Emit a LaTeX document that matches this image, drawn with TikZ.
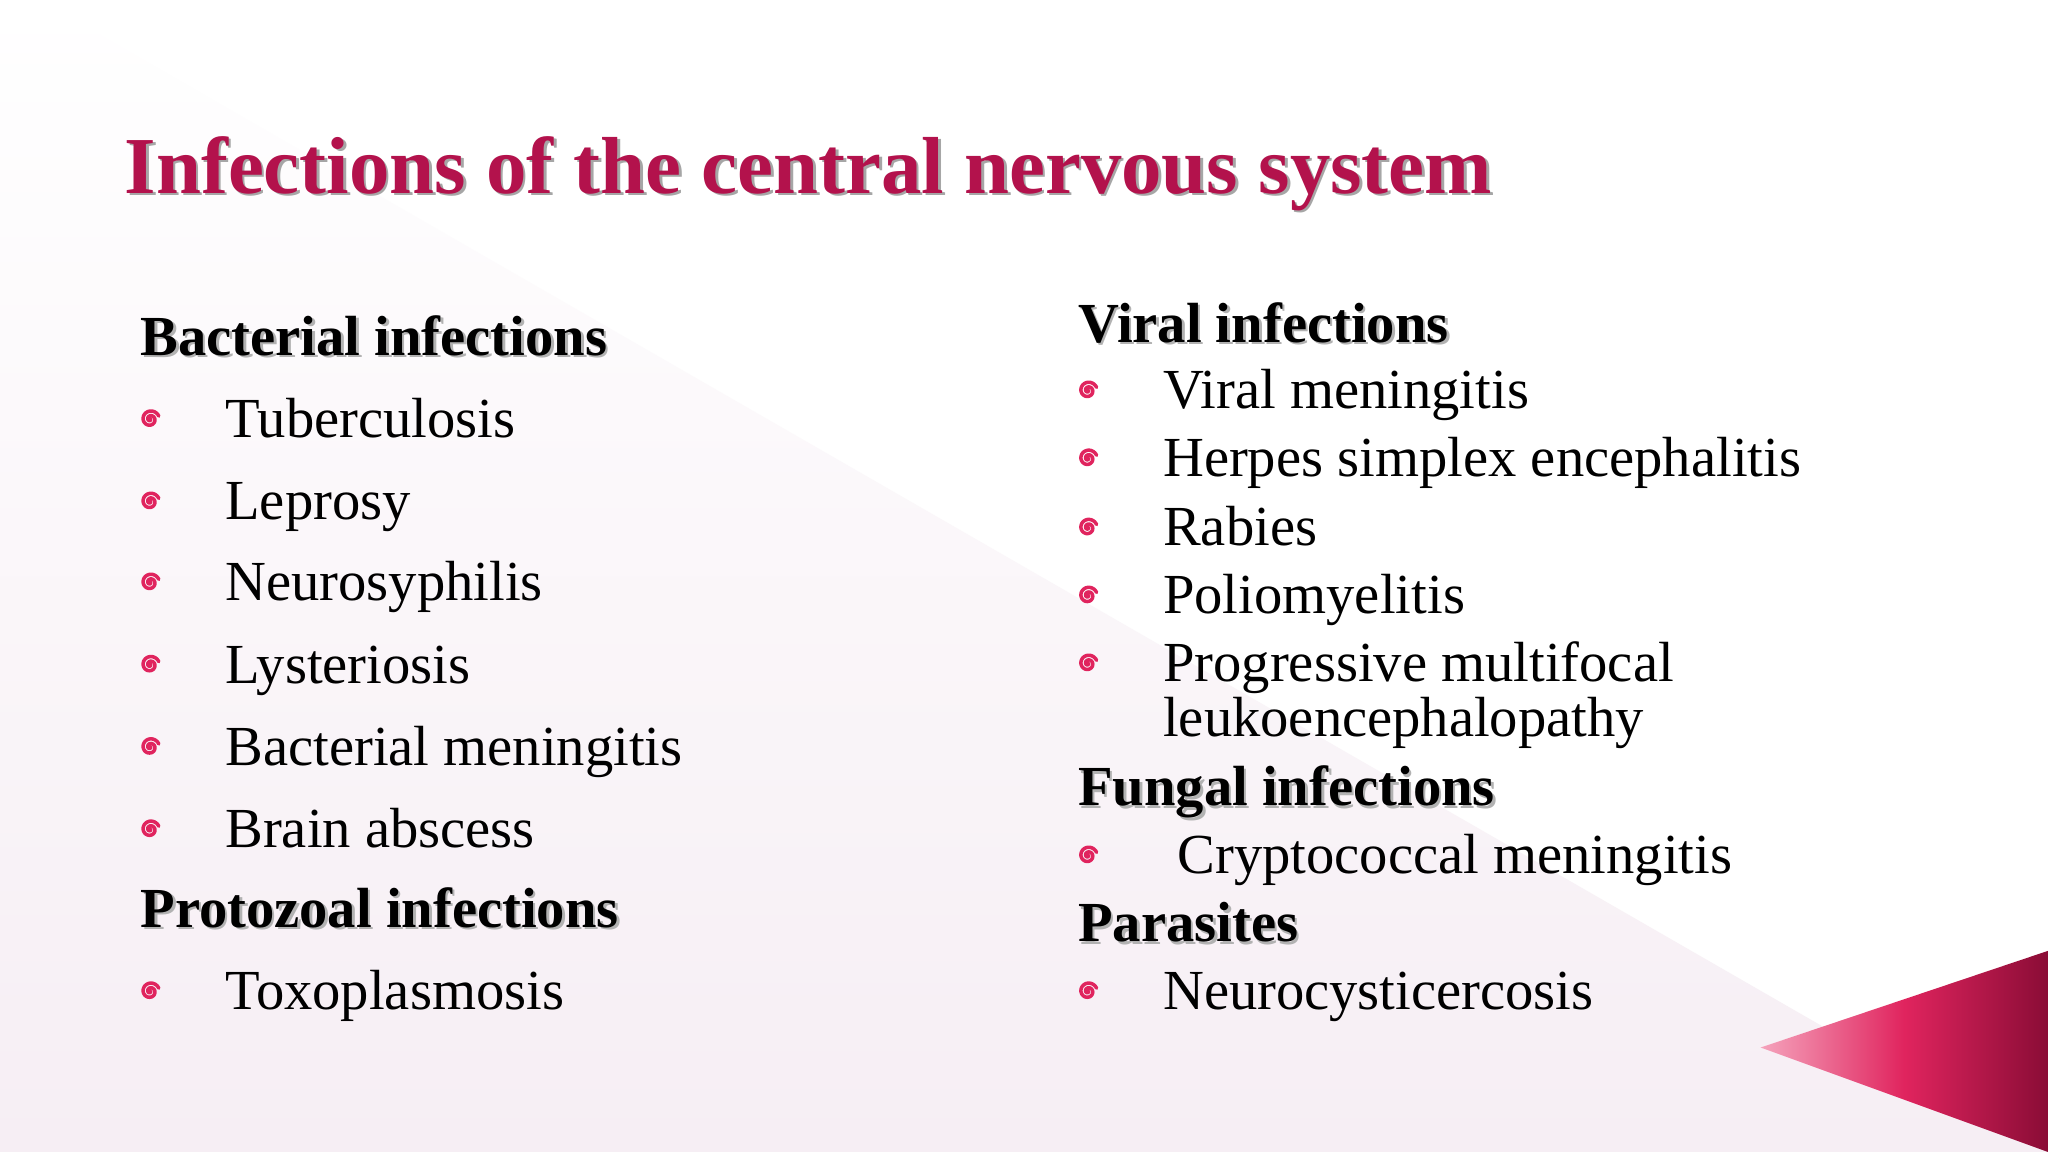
\documentclass[tikz,border=0pt]{standalone}
\usepackage{fontspec}
\setmainfont{Liberation Serif}
\definecolor{titlered}{HTML}{B3124C}
\definecolor{swirlred}{HTML}{E0245E}
\definecolor{wedgedark}{HTML}{8A0C36}
\definecolor{wedgelight}{HTML}{F5A3BC}
\definecolor{haze}{HTML}{F6EEF4}
\begin{document}
\begin{tikzpicture}[x=0.01306cm,y=-0.01306cm]
  \tikzset{
    item/.style={anchor=base west,inner sep=0pt,font=\fontsize{16.1}{19}\selectfont},
    head/.style={anchor=base west,inner sep=0pt,font=\fontsize{16.1}{19}\selectfont\bfseries},
    swirl/.pic={\draw[swirlred,line width=1pt,line cap=round]
        plot[domain=0:700,samples=70,smooth,variable=\t] ({\t}:{\t/100});}
  }
  \useasboundingbox (0,0) rectangle (1568,882);
  % background
  \fill[white] (0,0) rectangle (1568,882);
  \shade[top color=white,bottom color=haze] (0,0) -- (30,0) -- (1420,800) -- (1568,882) -- (0,882) -- cycle;
  \shade[left color=wedgelight,right color=wedgedark,middle color=swirlred] (1348,802) -- (1568,728) -- (1568,882) -- cycle;
  % title
  \node[anchor=base west,inner sep=0pt,text=black!35,font=\fontsize{23}{28}\selectfont\bfseries] at (97,150) {Infections of the central nervous system};
  \node[anchor=base west,inner sep=0pt,text=titlered,font=\fontsize{23}{28}\selectfont\bfseries] (title) at (95,148) {Infections of the central nervous system};
  % headings
  \foreach \name/\x/\y/\txt in {bact/107/272/Bacterial infections, proto/107/710/Protozoal infections,
      viral/825/262/Viral infections, fungal/825/617/Fungal infections, para/825/721/Parasites} {
    \node[head,text=black!30] at (\x+2,\y+2) {\txt};
    \node[head] (H-\name) at (\x,\y) {\txt};
  }
  % left items
  \foreach \num/\y/\txt in {1/335/Tuberculosis, 2/398/Leprosy, 3/460/Neurosyphilis, 4/523/Lysteriosis,
      5/586/Bacterial meningitis, 6/649/Brain abscess, 7/773/Toxoplasmosis} {
    \pic at (115,\y-14) {swirl};
    \node[item] (L-\num) at (172,\y) {\txt};
  }
  % right items
  \foreach \num/\y/\x/\txt in {1/313/890/Viral meningitis, 2/365/890/Herpes simplex encephalitis, 3/418/890/Rabies,
      4/470/890/Poliomyelitis, 5/522/890/Progressive multifocal, 6/669/901/Cryptococcal meningitis,
      7/773/890/Neurocysticercosis} {
    \pic at (833,\y-14) {swirl};
    \node[item] (R-\num) at (\x,\y) {\txt};
  }
  \node[item] (R-5b) at (890,564) {leukoencephalopathy};
\end{tikzpicture}
\end{document}
